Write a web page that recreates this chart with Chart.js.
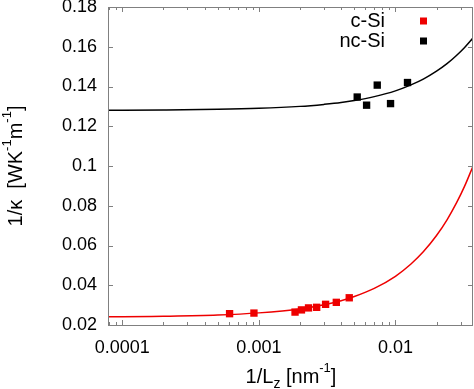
<!DOCTYPE html>
<html><head><meta charset="utf-8">
<script src="https://cdn.jsdelivr.net/npm/chart.js@4/dist/chart.umd.min.js"></script>
<style>html,body{margin:0;padding:0;background:#fff}#wrap{width:474px;height:389px}</style>
</head><body><div id="wrap"><canvas id="c" width="474" height="389"></canvas></div>
<script>
// ---- data ----
const cSiX = [0.00061, 0.00092, 0.00184, 0.00205, 0.00231, 0.00265, 0.00308, 0.00369, 0.00459];
const cSiY = [0.0257, 0.0260, 0.0265, 0.0276, 0.0286, 0.0289, 0.0304, 0.0314, 0.0337];
const ncSiX = [0.00525, 0.00615, 0.00736, 0.00921, 0.01226];
const ncSiY = [0.1347, 0.1306, 0.1407, 0.1314, 0.1420];
const fitX     = [0.0000785, 0.0001, 0.0002, 0.0005, 0.001, 0.002, 0.003, 0.004, 0.005, 0.007, 0.010, 0.013, 0.016, 0.020, 0.024, 0.028, 0.032, 0.037];
const cSiFitY  = [0.0242, 0.0242, 0.0244, 0.0250, 0.0261, 0.0281, 0.0302, 0.0322, 0.0343, 0.0384, 0.0445, 0.0507, 0.0568, 0.0650, 0.0732, 0.0814, 0.0896, 0.0999];
const ncSiFitY = [0.1281, 0.1281, 0.1282, 0.1285, 0.1290, 0.1300, 0.1310, 0.1319, 0.1329, 0.1349, 0.1378, 0.1408, 0.1437, 0.1477, 0.1516, 0.1556, 0.1595, 0.1644];
const xTickValues = [0.0001, 0.001, 0.01];
const xTickLabels = ['0.0001', '0.001', '0.01'];
const yTickValues = [0.02, 0.04, 0.06, 0.08, 0.10, 0.12, 0.14, 0.16, 0.18];
const yTickLabels = ['0.02', '0.04', '0.06', '0.08', '0.1', '0.12', '0.14', '0.16', '0.18'];
const seriesNames = ['c-Si', 'nc-Si'];

const RED = '#ee0000', BLACK = '#000000', AXIS = '#808080';
const FONT = '"Liberation Sans", Arial, Helvetica, sans-serif';

const pts = (xs, ys) => xs.map((x, i) => ({x, y: ys[i]}));

function drawRich(ctx, runs, cx, baseY) {
  let w = 0;
  runs.forEach(r => { ctx.font = r[1] + 'px ' + FONT; w += ctx.measureText(r[0]).width; });
  let x = cx - w / 2;
  ctx.textAlign = 'left'; ctx.textBaseline = 'alphabetic';
  runs.forEach(r => {
    ctx.font = r[1] + 'px ' + FONT;
    ctx.fillText(r[0], x, baseY + (r[2] || 0));
    x += ctx.measureText(r[0]).width;
  });
}

function noPad(s) { s.paddingLeft = 0; s.paddingRight = 0; s.paddingTop = 0; s.paddingBottom = 0; }

const decor = {
  id: 'decor',
  afterDraw(chart) {
    const ctx = chart.ctx, a = chart.chartArea, xs = chart.scales.x, ys = chart.scales.y;
    ctx.save();
    // frame
    ctx.strokeStyle = AXIS; ctx.lineWidth = 1;
    ctx.strokeRect(Math.round(a.left) + 0.5, Math.round(a.top) + 0.5, Math.round(a.right - a.left) - 1, Math.round(a.bottom - a.top));
    // y ticks (left and right, inward)
    ctx.beginPath();
    yTickValues.forEach(v => {
      const p = Math.round(ys.getPixelForValue(v)) + 0.5;
      ctx.moveTo(a.left, p); ctx.lineTo(a.left + 5, p);
      ctx.moveTo(a.right, p); ctx.lineTo(a.right - 5, p);
    });
    // x ticks, log major + minor (bottom and top)
    for (let e = -5; e <= -1; e++) {
      for (let m = 1; m <= 9; m++) {
        const v = m * Math.pow(10, e);
        if (v < xs.min || v > xs.max) continue;
        const p = Math.round(xs.getPixelForValue(v)) + 0.5;
        const len = m === 1 ? 5 : 3;
        ctx.moveTo(p, a.bottom); ctx.lineTo(p, a.bottom - len);
        ctx.moveTo(p, a.top); ctx.lineTo(p, a.top + len);
      }
    }
    ctx.stroke();
    // legend
    ctx.fillStyle = '#000';
    ctx.font = '20px ' + FONT; ctx.textAlign = 'right'; ctx.textBaseline = 'middle';
    ctx.fillText(seriesNames[0], 385, 21);
    ctx.fillText(seriesNames[1], 385, 41);
    ctx.fillStyle = RED; ctx.fillRect(420, 17.5, 7, 7);
    ctx.fillStyle = BLACK; ctx.fillRect(420, 37.5, 7, 7);
    // x title
    ctx.fillStyle = '#000';
    drawRich(ctx, [['1/L', 20], ['z', 14, 5], [' [nm', 20], ['-1', 13, -11], [']', 20]], 291, 383);
    // y title
    ctx.save();
    ctx.translate(22, 166); ctx.rotate(-Math.PI / 2);
    drawRich(ctx, [['1/\u03BA  [WK', 20], ['-1', 13, -11], ['m', 20], ['-1', 13, -11], [']', 20]], 0, 0);
    ctx.restore();
    ctx.restore();
  }
};

new Chart(document.getElementById('c'), {
  type: 'scatter',
  data: {
    datasets: [
      {label: seriesNames[0], data: pts(cSiX, cSiY), pointStyle: 'rect', pointRadius: 5.2, borderWidth: 0, backgroundColor: RED, showLine: false},
      {label: seriesNames[1], data: pts(ncSiX, ncSiY), pointStyle: 'rect', pointRadius: 5.2, borderWidth: 0, backgroundColor: BLACK, showLine: false},
      {label: 'c-Si fit', data: pts(fitX, cSiFitY), showLine: true, pointRadius: 0, borderColor: RED, borderWidth: 1.5, cubicInterpolationMode: 'monotone', fill: false},
      {label: 'nc-Si fit', data: pts(fitX, ncSiFitY), showLine: true, pointRadius: 0, borderColor: BLACK, borderWidth: 1.5, cubicInterpolationMode: 'monotone', fill: false}
    ]
  },
  options: {
    responsive: false, animation: false, devicePixelRatio: 1,
    layout: {autoPadding: false, padding: {top: 7, right: 1, left: 0, bottom: 0}},
    plugins: {legend: {display: false}, tooltip: {enabled: false}},
    scales: {
      x: {
        type: 'logarithmic', min: 0.0000785, max: 0.037,
        afterBuildTicks: s => { s.ticks = xTickValues.map(v => ({value: v, major: true})); },
        afterFit: s => { s.height = 64; noPad(s); },
        grid: {display: false, drawTicks: false}, border: {display: false},
        ticks: {autoSkip: false, maxRotation: 0, padding: 12, color: '#000', font: {size: 18, family: FONT},
          callback: (v, i) => xTickLabels[i]}
      },
      y: {
        type: 'linear', min: 0.02, max: 0.18,
        afterBuildTicks: s => { s.ticks = yTickValues.map(v => ({value: v})); },
        afterFit: s => { s.width = 108; noPad(s); },
        grid: {display: false, drawTicks: false}, border: {display: false},
        ticks: {autoSkip: false, padding: 11, color: '#000', font: {size: 18, family: FONT},
          callback: (v, i) => yTickLabels[i]}
      }
    }
  },
  plugins: [decor]
});
</script>
</body></html>
